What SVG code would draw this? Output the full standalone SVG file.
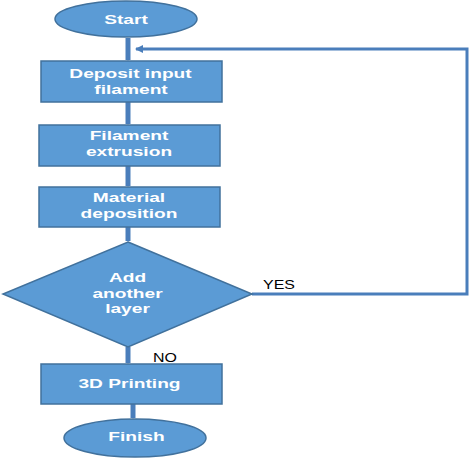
<svg xmlns="http://www.w3.org/2000/svg" width="474" height="459" viewBox="0 0 474 459">
<style>
.n{fill:#5B9BD5;stroke:#41719C;stroke-width:1.5}
.t{font-family:"Liberation Sans",Arial,sans-serif;font-weight:bold;font-size:13.5px;fill:#fff;text-anchor:middle}
.l{font-family:"Liberation Sans",Arial,sans-serif;font-size:12px;fill:#000}
.c{stroke:#4A7EBB;fill:none}
</style>
<defs>
<marker id="a" markerWidth="4" markerHeight="4" refX="3" refY="2" orient="auto" markerUnits="userSpaceOnUse">
<path d="M0,0 L4,2 L0,4 z" fill="#4A7EBB"/>
</marker>
<marker id="b" markerWidth="8" markerHeight="8" refX="7" refY="4" orient="auto" markerUnits="userSpaceOnUse">
<path d="M0,0 L8,4 L0,8 z" fill="#4A7EBB"/>
</marker>
</defs>
<rect width="474" height="459" fill="#fff"/>
<g id="connectors">
<line class="c" x1="128" y1="38" x2="128" y2="60" stroke-width="5" marker-end="url(#a)"/>
<line class="c" x1="128" y1="102" x2="128" y2="124" stroke-width="5" marker-end="url(#a)"/>
<line class="c" x1="128" y1="166" x2="128" y2="186" stroke-width="5" marker-end="url(#a)"/>
<line class="c" x1="128" y1="227" x2="128" y2="241" stroke-width="5" marker-end="url(#a)"/>
<line class="c" x1="128" y1="347" x2="128" y2="363" stroke-width="5" marker-end="url(#a)"/>
<line class="c" x1="133" y1="404" x2="133" y2="418" stroke-width="5" marker-end="url(#a)"/>
<polyline class="c" points="252,294 467,294 467,49 136,49" stroke-width="3" stroke-linejoin="miter" marker-end="url(#b)"/>
</g>
<g id="start"><ellipse class="n" cx="126" cy="19" rx="71" ry="18"/><text class="t" transform="translate(126,24) scale(1.42,1)">Start</text></g>
<g id="deposit"><rect class="n" x="41" y="61" width="181" height="41"/><text class="t" transform="translate(130.5,78) scale(1.42,1)">Deposit input</text><text class="t" transform="translate(131,94) scale(1.42,1)">filament</text></g>
<g id="extrusion"><rect class="n" x="39" y="125" width="181" height="41"/><text class="t" transform="translate(129,140) scale(1.42,1)">Filament</text><text class="t" transform="translate(129,156) scale(1.42,1)">extrusion</text></g>
<g id="deposition"><rect class="n" x="39" y="187" width="181" height="40"/><text class="t" transform="translate(129,202) scale(1.42,1)">Material</text><text class="t" transform="translate(129,218) scale(1.42,1)">deposition</text></g>
<g id="decision"><polygon class="n" points="128,242 252,294 128,347 3,294"/><text class="t" transform="translate(127.5,282) scale(1.42,1)">Add</text><text class="t" transform="translate(127.5,298) scale(1.42,1)">another</text><text class="t" transform="translate(127.5,313) scale(1.42,1)">layer</text></g>
<g id="printing"><rect class="n" x="41" y="364" width="181" height="40"/><text class="t" transform="translate(129.5,388) scale(1.42,1)">3D Printing</text></g>
<g id="finish"><ellipse class="n" cx="135" cy="438" rx="71" ry="19"/><text class="t" transform="translate(136.5,441) scale(1.42,1)">Finish</text></g>
<text class="l" transform="translate(263,289) scale(1.33,1)">YES</text>
<text class="l" transform="translate(153,362) scale(1.33,1)">NO</text>
</svg>
